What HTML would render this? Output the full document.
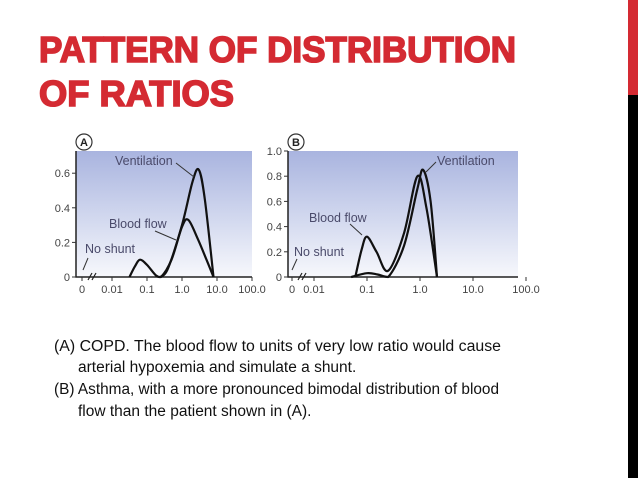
<!DOCTYPE html>
<html><head><meta charset="utf-8"><style>
html,body{margin:0;padding:0;background:#fff;}
svg{display:block;}
</style></head><body>
<svg id="s" width="638" height="478" viewBox="0 0 638 478" xmlns="http://www.w3.org/2000/svg" font-family="Liberation Sans, sans-serif">
<defs>
<linearGradient id="bg" x1="0" y1="0" x2="0" y2="1">
<stop offset="0" stop-color="#a9b4df"/><stop offset="0.55" stop-color="#d3d9ef"/><stop offset="1" stop-color="#f7f8fc"/>
</linearGradient>
</defs>
<rect x="628" y="0" width="10" height="95" fill="#d42a32"/>
<rect x="628" y="95" width="10" height="383" fill="#000"/>
<g fill="#d42a32" stroke="#d42a32" stroke-width="1.6" font-weight="bold" font-size="36">
<text x="39" y="62" textLength="477" lengthAdjust="spacingAndGlyphs">PATTERN OF DISTRIBUTION</text>
<text x="39" y="106" textLength="195" lengthAdjust="spacingAndGlyphs">OF  RATIOS</text>
</g>
<g id="charts"></g>
<g font-size="15.5" fill="#111">
<text x="54" y="351" textLength="447" lengthAdjust="spacingAndGlyphs">(A) COPD. The blood flow to units of very low ratio would cause</text>
<text x="78" y="372">arterial hypoxemia and simulate a shunt.</text>
<text x="54" y="394" textLength="445" lengthAdjust="spacingAndGlyphs">(B) Asthma, with a more pronounced bimodal distribution of blood</text>
<text x="78" y="416">flow than the patient shown in (A).</text>
</g>
</svg>
<script>
// Panel A data (x = log10 ratio, y = fraction)
const aVentX = [-0.62, -0.4, 0.0, 0.3, 0.48, 0.65, 0.9];
const aVentY = [0, 0.05, 0.3, 0.55, 0.62, 0.45, 0];
const aFlowX = [-1.5, -1.35, -1.2, -1.0, -0.75, -0.6, -0.3, 0.0, 0.18, 0.45, 0.7, 0.9];
const aFlowY = [0, 0.06, 0.1, 0.07, 0.01, 0.0, 0.1, 0.29, 0.33, 0.22, 0.1, 0];
const aYTicks = [0, 0.2, 0.4, 0.6];
const aXLabels = ["0", "0.01", "0.1", "1.0", "10.0", "100.0"];
// Panel B data
const bFlowX = [-1.22, -1.1, -1.0, -0.82, -0.6, -0.3, -0.05, 0.12, 0.32];
const bFlowY = [0, 0.22, 0.32, 0.2, 0.05, 0.35, 0.8, 0.55, 0];
const bVentX = [-1.3, -1.0, -0.8, -0.6, -0.3, -0.05, 0.06, 0.2, 0.32];
const bVentY = [0, 0.03, 0.02, 0.0, 0.25, 0.7, 0.85, 0.6, 0];
const bYTicks = [0, 0.2, 0.4, 0.6, 0.8, 1.0];
const bXLabels = ["0", "0.01", "0.1", "1.0", "10.0", "100.0"];

const NS = "http://www.w3.org/2000/svg";
const root = document.getElementById('charts');
function mk(tag, attrs, parent){ const e=document.createElementNS(NS,tag); for(const k in attrs) e.setAttribute(k,attrs[k]); (parent||root).appendChild(e); return e; }
function smooth(pts, base){
  let d = "M"+pts[0][0]+","+pts[0][1];
  for(let i=0;i<pts.length-1;i++){
    const p0=pts[Math.max(0,i-1)],p1=pts[i],p2=pts[i+1],p3=pts[Math.min(pts.length-1,i+2)];
    const c1=[p1[0]+(p2[0]-p0[0])/6,Math.min(base,p1[1]+(p2[1]-p0[1])/6)];
    const c2=[p2[0]-(p3[0]-p1[0])/6,Math.min(base,p2[1]-(p3[1]-p1[1])/6)];
    d+=" C"+c1[0]+","+c1[1]+" "+c2[0]+","+c2[1]+" "+p2[0]+","+p2[1];
  }
  return d;
}
function panel(cfg){
  const g = mk('g',{});
  
  
  const xs = v => cfg.x0 + (v - (-1)) * cfg.dec;
  const ys = v => cfg.base - v * cfg.ppu;
  const bg = mk('rect',{x:cfg.left,y:cfg.top,width:cfg.right-cfg.left,height:cfg.base-cfg.top,fill:'url(#bg)'},g);
  
  
  const ax = mk('path',{d:`M${cfg.left},${cfg.top} V${cfg.base} H${cfg.right}`,stroke:'#222',fill:'none','stroke-width':1.5},g);
  
  
  cfg.yticks.forEach(t=>{
    mk('line',{x1:cfg.left-4,x2:cfg.left,y1:ys(t),y2:ys(t),stroke:'#333'},g);
    const tx = mk('text',{x:cfg.left-6,y:ys(t)+4,'font-size':11,fill:'#444','text-anchor':'end'},g);
    tx.textContent = t===0 ? "0" : t.toFixed(1);
    
    
  });
  cfg.xlabels.forEach((l,i)=>{
    const px = i===0 ? cfg.zeroX : xs(i-3);
    mk('line',{x1:px,x2:px,y1:cfg.base,y2:cfg.base+4,stroke:'#333'},g);
    const tx = mk('text',{x:px,y:cfg.base+16,'font-size':11,fill:'#444','text-anchor':'middle'},g);
    tx.textContent = l;
    
    
  });
  mk('path',{d:`M${cfg.zeroX+6},${cfg.base+3} l4,-7 M${cfg.zeroX+10},${cfg.base+3} l4,-7`,stroke:'#222','stroke-width':1.2},g);
  cfg.series.forEach(s=>{
    const pts = s.x.map((v,i)=>[xs(v).toFixed(1), ys(s.y[i]).toFixed(1)].map(Number));
    const p = mk('path',{d:smooth(pts, cfg.base),stroke:'#111','stroke-width':2.2,fill:'none','stroke-linejoin':'round'},g);
    
    
  });
  cfg.labels.forEach(l=>{
    const t = mk('text',{x:l[1],y:l[2],'font-size':12.5,fill:'#4a4a6a'},g);
    t.textContent = l[0];
    
    
    if(l[3]) mk('path',{d:l[3],stroke:'#333',fill:'none','stroke-width':1},g);
  });
  const c = mk('circle',{cx:cfg.left+8,cy:cfg.top-9,r:8,fill:'#fff',stroke:'#333','stroke-width':1.2},g);
  
  
  const ct = mk('text',{x:cfg.left+8,y:cfg.top-5,'font-size':11,'font-weight':'bold','text-anchor':'middle',fill:'#222'},g);
  ct.textContent = cfg.badge;
}
panel({name:'chart-panel-a',badge:'A',left:76,right:252,top:151,base:277,x0:147,dec:35,zeroX:82,ppu:173,
  yticks:aYTicks,xlabels:aXLabels,
  series:[{name:'ventilation-line-a',x:aVentX,y:aVentY},{name:'blood-flow-line-a',x:aFlowX,y:aFlowY}],
  labels:[["Ventilation",115,165,"M176,163 L194,177"],["Blood flow",109,228,"M155,231 L176,240"],["No shunt",85,253,"M88,258 L83,270"]]});
panel({name:'chart-panel-b',badge:'B',left:288,right:518,top:151,base:277,x0:367,dec:53,zeroX:292,ppu:126,
  yticks:bYTicks,xlabels:bXLabels,
  series:[{name:'ventilation-line-b',x:bVentX,y:bVentY},{name:'blood-flow-line-b',x:bFlowX,y:bFlowY}],
  labels:[["Ventilation",437,165,"M436,162 L426,172"],["Blood flow",309,222,"M350,224 L362,235"],["No shunt",294,256,"M297,259 L292,270"]]});
</script>
</body></html>
